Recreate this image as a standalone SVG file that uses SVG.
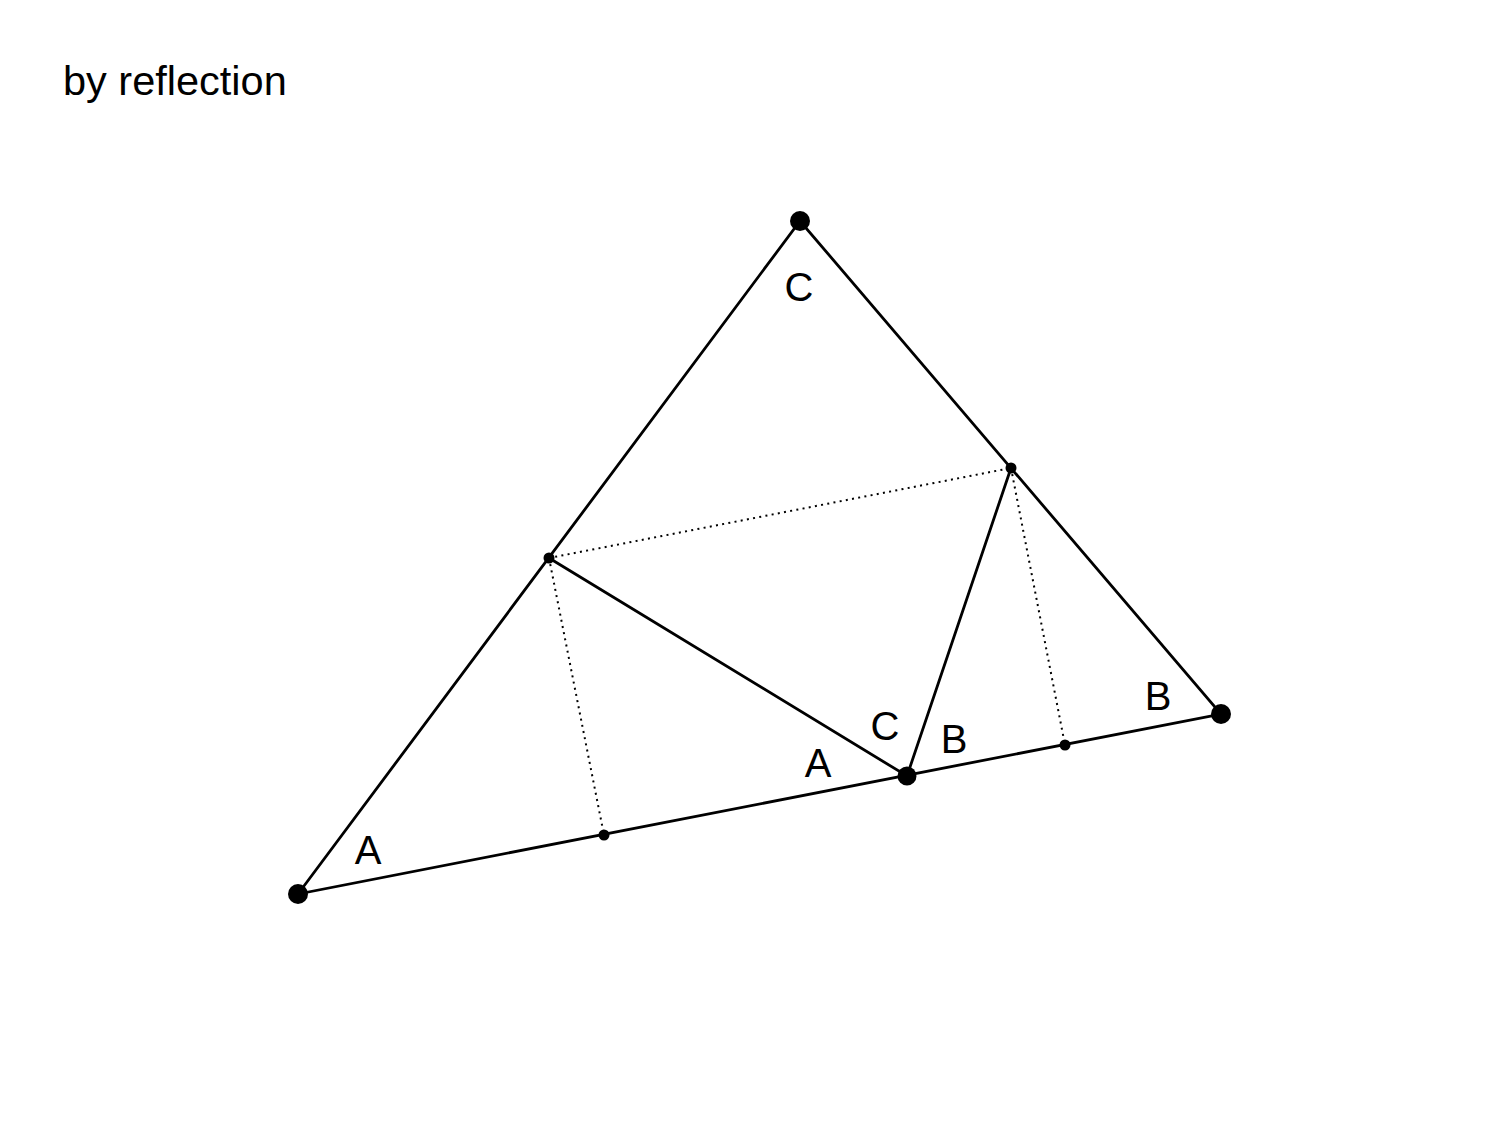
<svg xmlns="http://www.w3.org/2000/svg" width="1500" height="1125" viewBox="0 0 1500 1125">
<style>
.s{stroke:#000;stroke-width:2.8;fill:none;stroke-linecap:round}
.d{stroke:#000;stroke-width:2;fill:none;stroke-dasharray:2 4.3}
.t{font-family:"Liberation Sans",Arial,sans-serif;font-size:40px;fill:#000}
.l{text-anchor:middle}
</style>
<rect width="1500" height="1125" fill="#fff"/>
<text class="t" x="63" y="95" style="font-size:41.5px">by reflection</text>
<g id="connectors">
<path class="s" d="M298,894 L800,221 L1221,714 Z"/>
<path class="s" d="M549,558 L907,776 L1011,468"/>
<path class="d" d="M549,558 L1011,468"/>
<path class="d" d="M549,558 L604,835"/>
<path class="d" d="M1011,468 L1065,745"/>
</g>
<g id="points">
<circle cx="298" cy="894" r="10"/>
<circle cx="800" cy="221" r="10"/>
<circle cx="1221" cy="714" r="10"/>
<circle cx="907" cy="776" r="9.5"/>
<circle cx="549" cy="558" r="5.5"/>
<circle cx="1011" cy="468" r="5.5"/>
<circle cx="604" cy="835" r="5.5"/>
<circle cx="1065" cy="745" r="5.5"/>
</g>
<g id="labels">
<text class="t l" x="799" y="301">C</text>
<text class="t l" x="368" y="864">A</text>
<text class="t l" x="818" y="777">A</text>
<text class="t l" x="885" y="740">C</text>
<text class="t l" x="954" y="753">B</text>
<text class="t l" x="1158" y="710">B</text>
</g>
</svg>
